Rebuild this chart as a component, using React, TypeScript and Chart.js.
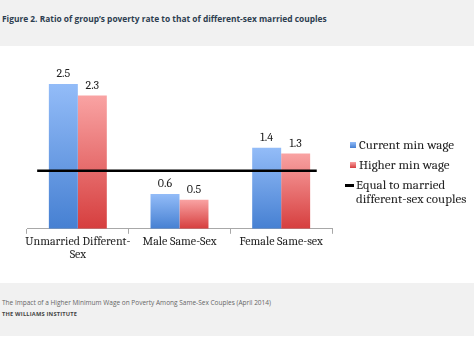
import React, { useEffect, useRef } from "react";
import { Chart, registerables } from "chart.js";

Chart.register(...registerables);

const categories: (string | string[])[] = [["Unmarried Different-", "Sex"], "Male Same-Sex", "Female Same-sex"];
const currentMinWage = [2.5, 0.6, 1.4];
const higherMinWage = [2.3, 0.5, 1.3];
const equalLineFrom = -0.4;
const equalLineTo = 2.35;
const equalLineValue = 1;
const seriesNames = ["Current min wage", "Higher min wage", "Equal to married different-sex couples"];

const SERIF = "Cambria, 'Liberation Serif', 'DejaVu Serif', serif";
const SANS = "'Open Sans', 'Liberation Sans', sans-serif";

function gradientFor(ctx: any, top: string, bottom: string) {
  const chart = ctx.chart;
  const y = chart.scales?.y;
  if (!y || ctx.raw == null) return top;
  const yTop = y.getPixelForValue(ctx.raw);
  const yBot = y.getPixelForValue(0);
  if (!isFinite(yTop) || !isFinite(yBot) || yTop === yBot) return top;
  const g = chart.ctx.createLinearGradient(0, yTop, 0, yBot);
  g.addColorStop(0, top);
  g.addColorStop(1, bottom);
  return g;
}

const equalLine = {
  id: "equalLine",
  afterDatasetsDraw(chart: any) {
    const { ctx, scales } = chart;
    const x0 = scales.x.getPixelForValue(equalLineFrom);
    const x1 = scales.x.getPixelForValue(equalLineTo);
    const y = scales.y.getPixelForValue(equalLineValue);
    ctx.save();
    ctx.strokeStyle = "#000";
    ctx.lineWidth = 2.5;
    ctx.beginPath();
    ctx.moveTo(x0, y);
    ctx.lineTo(x1, y);
    ctx.stroke();
    ctx.restore();
  },
};

const valueLabels = {
  id: "valueLabels",
  afterDatasetsDraw(chart: any) {
    const ctx = chart.ctx;
    ctx.save();
    ctx.font = `12px ${SERIF}`;
    ctx.fillStyle = "#222";
    ctx.textAlign = "center";
    ctx.textBaseline = "bottom";
    [0, 1].forEach((di) => {
      const meta = chart.getDatasetMeta(di);
      const data = chart.data.datasets[di].data as number[];
      meta.data.forEach((el: any, i: number) => {
        ctx.fillText(data[i].toFixed(1), el.x, el.y - 4);
      });
    });
    ctx.restore();
  },
};

export default function App() {
  const ref = useRef<HTMLCanvasElement>(null);
  useEffect(() => {
    if (!ref.current) return;
    const chart = new Chart(ref.current, {
      type: "bar",
      data: {
        labels: categories as any,
        datasets: [
          {
            label: seriesNames[0],
            data: currentMinWage,
            backgroundColor: (c: any) => gradientFor(c, "#93bcf8", "#4680d2"),
          },
          {
            label: seriesNames[1],
            data: higherMinWage,
            backgroundColor: (c: any) => gradientFor(c, "#f9a3a3", "#d63e3e"),
          },
        ],
      },
      options: {
        animation: false,
        responsive: false,
        datasets: { bar: { categoryPercentage: 0.57, barPercentage: 1 } },
        layout: { padding: { left: 27, right: 142, top: 9, bottom: 0 } },
        plugins: { legend: { display: false }, tooltip: { enabled: false } },
        scales: {
          x: {
            grid: { display: true, drawOnChartArea: false, tickLength: 5, color: "#a8a8a8", offset: true },
            border: { display: true, color: "#a8a8a8" },
            ticks: { color: "#222", font: { family: SERIF, size: 12, lineHeight: 1.05 }, maxRotation: 0, autoSkip: false, padding: 2 },
          },
          y: {
            display: false,
            min: 0,
            max: 3,
          },
        },
      } as any,
      plugins: [equalLine, valueLabels],
    });
    return () => chart.destroy();
  }, []);

  const legendText: React.CSSProperties = { fontFamily: SERIF, fontSize: 13, color: "#222", lineHeight: "14px" };

  return (
    <div style={{ position: "fixed", left: 0, top: 0, width: 474, height: 339, background: "#fff", overflow: "hidden" }}>
      <div style={{ position: "absolute", left: 0, top: 0, width: 474, height: 46, background: "#f1f1f1" }}>
        <div style={{ position: "absolute", left: 2, top: 13, fontFamily: SANS, fontWeight: 700, fontSize: 8.4, color: "#2d3e50", whiteSpace: "nowrap" }}>
          Figure 2. Ratio of group’s poverty rate to that of different-sex married couples
        </div>
      </div>
      <canvas ref={ref} width={474} height={217} style={{ position: "absolute", left: 0, top: 46, width: 474, height: 217 }} />
      <div style={{ position: "absolute", left: 345, top: 138 }}>
        <div style={{ display: "flex", alignItems: "center", height: 14 }}>
          <span style={{ width: 6, height: 6, background: "linear-gradient(#93bcf8,#4680d2)", marginLeft: 5, marginRight: 3 }} />
          <span style={legendText}>{seriesNames[0]}</span>
        </div>
        <div style={{ display: "flex", alignItems: "center", height: 14, marginTop: 6 }}>
          <span style={{ width: 6, height: 6, background: "linear-gradient(#f9a3a3,#d63e3e)", marginLeft: 5, marginRight: 3 }} />
          <span style={legendText}>{seriesNames[1]}</span>
        </div>
        <div style={{ display: "flex", alignItems: "flex-start", marginTop: 6 }}>
          <span style={{ width: 9, height: 3, background: "#000", marginTop: 6, marginRight: 2 }} />
          <span style={legendText}>Equal to married<br />different-sex couples</span>
        </div>
      </div>
      <div style={{ position: "absolute", left: 0, top: 283, width: 474, height: 53, background: "#f1f1f1" }}>
        <div style={{ position: "absolute", left: 2, top: 15, fontFamily: SANS, fontSize: 6.5, color: "#666", whiteSpace: "nowrap" }}>
          The Impact of a Higher Minimum Wage on Poverty Among Same-Sex Couples (April 2014)
        </div>
        <div style={{ position: "absolute", left: 2, top: 27, fontFamily: SANS, fontWeight: 700, fontSize: 5.7, color: "#444", whiteSpace: "nowrap", letterSpacing: 0.2 }}>
          THE WILLIAMS INSTITUTE
        </div>
      </div>
    </div>
  );
}
